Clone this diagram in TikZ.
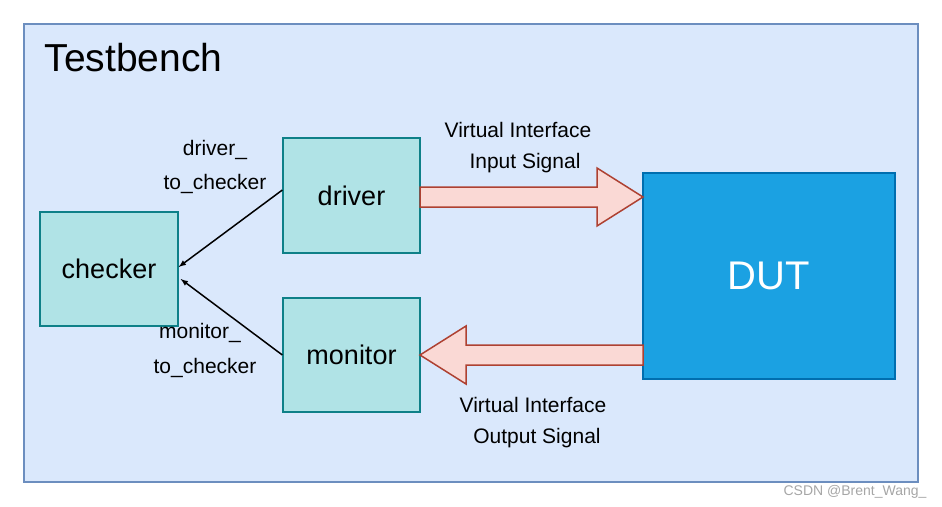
\documentclass[tikz,border=0pt]{standalone}
\usepackage{fontspec}
\setmainfont{Liberation Sans}
\usetikzlibrary{calc}
\definecolor{tbfill}{HTML}{DAE8FC}
\definecolor{tbline}{HTML}{6C8EBF}
\definecolor{boxfill}{HTML}{B0E3E6}
\definecolor{boxline}{HTML}{0E8088}
\definecolor{dutfill}{HTML}{1BA1E2}
\definecolor{dutline}{HTML}{006EAF}
\definecolor{arrfill}{HTML}{FAD9D5}
\definecolor{arrline}{HTML}{AE4132}
\begin{document}
\begin{tikzpicture}[x=1pt,y=-1pt,
  box/.style={draw=boxline,fill=boxfill,line width=1.3pt,font=\fontsize{27}{30}\selectfont},
  lbl/.style={font=\fontsize{21}{24}\selectfont},
  fat/.style={draw=arrline,fill=arrfill,line width=1.5pt,line join=miter}]
\useasboundingbox (0,0) rectangle (942,506);
\draw[fill=tbfill,draw=tbline,line width=1.3pt] (24,24) rectangle (918,482);
\node[anchor=west,font=\fontsize{39}{42}\selectfont] (tb) at (41,58) {Testbench};
\node[box,minimum width=138pt,minimum height=114pt] (checker) at (109,269) {checker};
\node[box,minimum width=137pt,minimum height=115pt] (driver) at (351.5,195.5) {driver};
\node[box,minimum width=137pt,minimum height=114pt] (monitor) at (351.5,355) {monitor};
\node[draw=dutline,fill=dutfill,line width=1.3pt,text=white,minimum width=252pt,minimum height=206pt,font=\fontsize{40}{44}\selectfont] (dut) at (769,276) {DUT};
\draw[-latex,line width=1.5pt] (driver.west |- 0,190) -- ($(checker.east)+(0,-2)$);
\draw[-latex,line width=1.5pt] (monitor.west) -- ($(checker.east)+(2,10)$);
\node[lbl] (l1) at (215,150) {driver\_};
\node[lbl] (l2) at (215,184) {to\_checker};
\node[lbl] (l3) at (200,333) {monitor\_};
\node[lbl] (l4) at (205,368) {to\_checker};
% input signal block arrow
\draw[fat] (420,187) -- (597,187) -- (597,168) -- (643,197) -- (597,226) -- (597,207) -- (420,207) -- cycle;
% output signal block arrow
\draw[fat] (643,345) -- (466,345) -- (466,326) -- (420,355) -- (466,384) -- (466,365) -- (643,365) -- cycle;
\node[lbl] (v1) at (518,130) {Virtual Interface};
\node[lbl] (v2) at (525,163) {Input Signal};
\node[lbl] (v3) at (533,405) {Virtual Interface};
\node[lbl] (v4) at (537,438) {Output Signal};
\node[text=gray!70,font=\fontsize{14}{16}\selectfont] (wm) at (855,492) {CSDN @Brent\_Wang\_};
\end{tikzpicture}
\end{document}
